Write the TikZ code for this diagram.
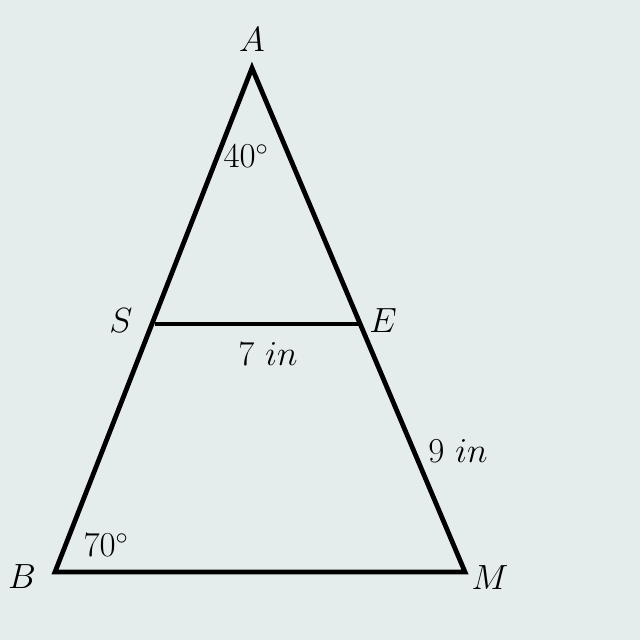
\documentclass[tikz,border=0pt]{standalone}
\usepackage{fontspec}
\usepackage{tikz}
\usetikzlibrary{positioning}
\definecolor{paper}{HTML}{E4ECEC}
\begin{document}
\begin{tikzpicture}[x=0.025cm, y=-0.025cm,
		side/.style={line width=3.4pt, line join=miter},
		vlabel/.style={font=\fontsize{23}{27}\selectfont, inner sep=0pt},
		mlabel/.style={font=\fontsize{26}{30}\selectfont, inner sep=0pt}]
		\fill[paper] (0,0) rectangle (640,640);
		\useasboundingbox (0,0) rectangle (640,640);
		
		\coordinate (A) at (252,68);
		\coordinate (B) at (55,572);
		\coordinate (M) at (465,572);
		\coordinate (S) at (155,324);
		\coordinate (E) at (360,324);
		
		\draw[side] (A) -- (B) -- (M) -- cycle;
		\draw[side] (S) -- (E);
		
		\node[vlabel] (labA) at (252,40) {$A$};
		\node[vlabel] (labS) at (121,321) {$S$};
		\node[vlabel] (labE) at (383,321) {$E$};
		\node[vlabel] (labB) at (22,577) {$B$};
		\node[vlabel] (labM) at (490,578) {$M$};
		
		\node[mlabel] (angA) at (246,156) {$40^{\circ}$};
		\node[mlabel] (angB) at (106,545) {$70^{\circ}$};
		\node[mlabel] (lenSE) at (268,354) {$7\ in$};
		\node[mlabel] (lenEM) at (458,451) {$9\ in$};
	\end{tikzpicture}
\end{document}
